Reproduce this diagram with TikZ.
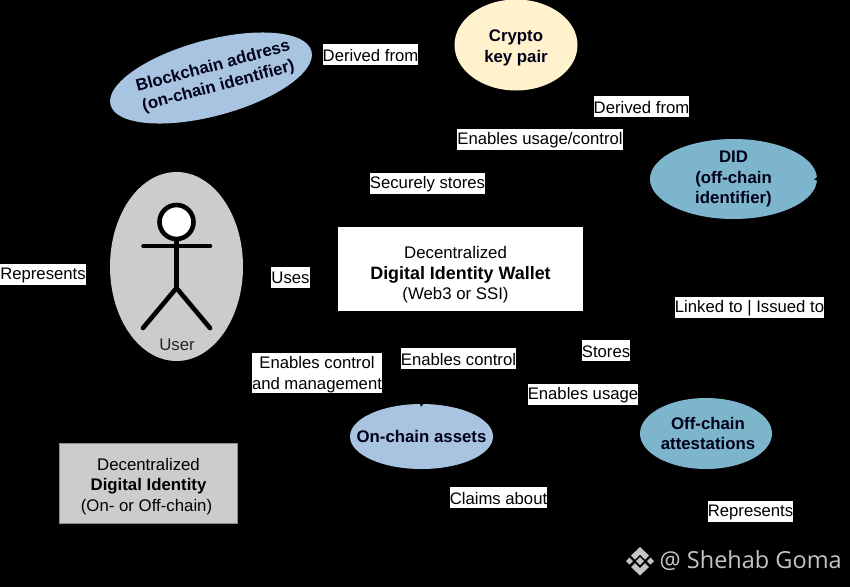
\documentclass[tikz,border=0pt]{standalone}
\usepackage{fontspec}
\setmainfont{Liberation Sans}
\newfontfamily\markfont{Open Sans}
\usetikzlibrary{positioning,arrows.meta,shapes.geometric}
\newcommand{\topgap}[1]{\rule{0pt}{#1}}
\tikzset{
  ell/.style   = {draw=none, ellipse, align=center, inner sep=-20pt,
                  font=\fontsize{16.8}{20.5}\selectfont\bfseries, text=black!90!blue},
  lbl/.style   = {fill=white, align=center, inner sep=0pt, text=black,
                  font=\fontsize{16.7}{20.5}\selectfont, minimum height=21pt,
                  execute at begin node=\topgap{14pt}},
  rec/.style   = {align=center, inner sep=0pt,
                  font=\fontsize{16.8}{20.5}\selectfont},
  ar/.style    = {-{Latex[length=5pt,width=7pt]}, black, thin, shorten >=-3pt},
  figline/.style = {line width=4.6pt, black, line cap=round},
}
\definecolor{addrblue}{HTML}{A9C4E0}
\definecolor{didteal}{HTML}{7DB6CC}
\definecolor{keyyellow}{HTML}{FFF2CC}
\definecolor{usergrey}{HTML}{CCCCCC}
\definecolor{markgrey}{HTML}{C4C4C4}
\begin{document}
\begin{tikzpicture}[x=1pt,y=-1pt]
\fill[black] (0,0) rectangle (850,587);
\useasboundingbox (0,0) rectangle (850,587);

\node[ell, fill=addrblue, minimum width=208pt, minimum height=76pt, rotate=15] (addr) at (211,78)
     {\hspace*{10pt}Blockchain address\\\hspace*{10pt}(on-chain identifier)};
\node[ell, fill=keyyellow, minimum width=123pt, minimum height=91pt] (keypair) at (516,45)
     {\topgap{17pt}Crypto\\key pair};
\node[ell, fill=didteal, minimum width=167pt, minimum height=80pt] (did) at (733.5,179)
     {DID\\(off-chain\\identifier)};
\node[ell, fill=addrblue, minimum width=143pt, minimum height=65pt] (onchain) at (421.5,436.5)
     {On-chain assets};
\node[ell, fill=didteal, minimum width=132pt, minimum height=71pt] (offchain) at (706,433.5)
     {\hspace*{4pt}Off-chain\\\hspace*{4pt}attestations};

\node[ellipse, fill=usergrey, minimum width=133pt, minimum height=189pt, inner sep=0pt] (user) at (176.5,266.5) {};
\node[draw, figline, circle, fill=white, minimum size=34pt, inner sep=0pt] (head) at (176.5,222) {};
\coordinate (hip) at (176.5,288);
\coordinate (armL) at (143.5,246);
\coordinate (armR) at (210,246);
\coordinate (footL) at (143,328);
\coordinate (footR) at (210,328);
\draw[figline] (armL) -- (armR);
\draw[figline] (head) -- (hip);
\draw[figline] (footL) -- (hip) -- (footR);
\node[rec, text=black!85] (userlbl) at (177,345) {User};

\node[rec, fill=white, minimum width=245pt, minimum height=84pt] (wallet) at (460.5,269)
     {\topgap{24pt}Decentralized\hspace*{10pt}\\\textbf{\fontsize{17.9}{20.5}\selectfont Digital Identity Wallet}\\(Web3 or SSI)\hspace*{10pt}};
\node[rec, fill=usergrey, draw=black!45, minimum width=178pt, minimum height=80pt] (ident) at (148.5,483.5)
     {\topgap{18pt}Decentralized\\\textbf{Digital Identity}\\(On- or Off-chain)\hspace*{4pt}};

\node[lbl] (l1) at (370.5,54.5) {Derived from};
\node[lbl] (l2) at (641.5,106.5) {Derived from};
\node[lbl] (l3) at (540,139) {Enables usage/control};
\node[lbl] (l4) at (427.5,183.5) {Securely stores};
\node[lbl] (l5) at (43,274) {Represents};
\node[lbl] (l6) at (290.5,277) {Uses};
\node[lbl] (l7) at (749.5,307.5) {Linked to | Issued to};
\node[lbl] (l8) at (458.5,358.5) {Enables control};
\node[lbl] (l9) at (606,350.5) {Stores};
\node[lbl] (l10) at (317,373) {\topgap{15pt}Enables control\\[1pt]and management};
\node[lbl] (l11) at (583,394.5) {Enables usage};
\node[lbl] (l12) at (498.5,497.5) {Claims about};
\node[lbl] (l13) at (750.5,511) {Represents};

\coordinate (inA) at (423,396);
\coordinate (inB) at (826,178);
\draw[ar] (inA) -- (onchain.north);
\draw[ar] (inB) -- (did.east);

% watermark
\node[font=\fontsize{23.5}{28}\selectfont\markfont, text=markgrey, anchor=west, inner sep=0pt] (mark) at (659.5,561) {@ Shehab Goma};
\fill[markgrey] (640,547) -- (649,555.5) -- (645,559.5) -- (640,554.5) -- (635,559.5) -- (631,555.5) -- cycle;
\fill[markgrey] (640,575.5) -- (649,567) -- (645,563) -- (640,568) -- (635,563) -- (631,567) -- cycle;
\fill[markgrey] (640,557) -- (644,561) -- (640,565) -- (636,561) -- cycle;
\fill[markgrey] (629.5,557.5) -- (633,561) -- (629.5,564.5) -- (626,561) -- cycle;
\fill[markgrey] (650.5,557.5) -- (654,561) -- (650.5,564.5) -- (647,561) -- cycle;
\end{tikzpicture}
\end{document}
